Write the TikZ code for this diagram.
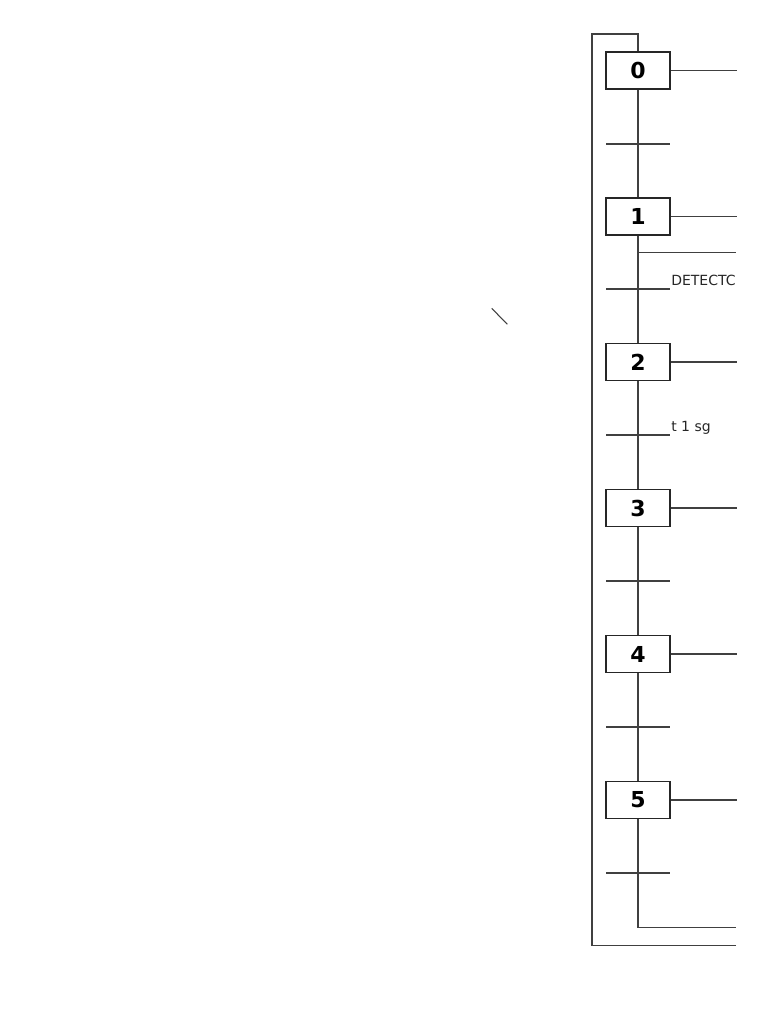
\documentclass[tikz,border=0pt]{standalone}
\usepackage{fontspec}
\setmainfont{DejaVu Sans}
\begin{document}
\begin{tikzpicture}[x=0.75pt,y=-0.75pt,
  ln/.style={draw=black!75,line width=0.8pt},
  stepbox/.style={ln,draw=black!85,fill=white,minimum width=64*0.75pt,minimum height=37*0.75pt,inner sep=0pt,font=\fontsize{16.5}{16.5}\selectfont\bfseries},
  lbl/.style={font=\fontsize{10.5}{11}\selectfont,text=black!85,anchor=base west,inner sep=0pt}]
\useasboundingbox (0,0) rectangle (768,1024);
% steps
\foreach \i/\y in {0/70.5,1/216.5,2/362,3/508,4/654,5/800}{
  \node[stepbox] (s\i) at (638,\y) {\i};
}
% transitions
\foreach \i/\y in {0/144,1/289,2/435,3/581,4/727,5/873}{
  \coordinate (tl\i) at (606,\y);
  \coordinate (tr\i) at (670,\y);
}
% main vertical links
\draw[ln] (s0.south) -- (s1.north);
\draw[ln] (s1.south) -- (s2.north);
\draw[ln] (s2.south) -- (s3.north);
\draw[ln] (s3.south) -- (s4.north);
\draw[ln] (s4.south) -- (s5.north);
\foreach \i in {0,...,5}{ \draw[ln] (tl\i) -- (tr\i); }
% actions
\foreach \i in {0,...,5}{
  \coordinate (a\i) at ([xshift=66*0.75pt]s\i.east);
  \draw[ln] (s\i.east) -- (a\i);
}
\coordinate (e1a) at (638,252.7);
\coordinate (e1b) at (736,252.7);
\draw[ln] (e1a) -- (e1b);
% labels
\node[lbl] (lb1) at (671,285) {DETECTC};
\node[lbl] (lb2) at (671,431) {t 1 sg};
% bottom / loop
\coordinate (b1) at (638,927.7);
\coordinate (b2) at (736,927.7);
\draw[ln] (s5.south) -- (b1) -- (b2);
\coordinate (l1) at (736,945.7);
\coordinate (l2) at (592,945.7);
\coordinate (l3) at (592,34);
\coordinate (l4) at (638,34);
\draw[ln] (l1) -- (l2) -- (l3) -- (l4) -- (s0.north);
% stray mark
\coordinate (d1) at (491.7,308.3);
\coordinate (d2) at (507.3,324.3);
\draw[ln] (d1) -- (d2);
\end{tikzpicture}
\end{document}
